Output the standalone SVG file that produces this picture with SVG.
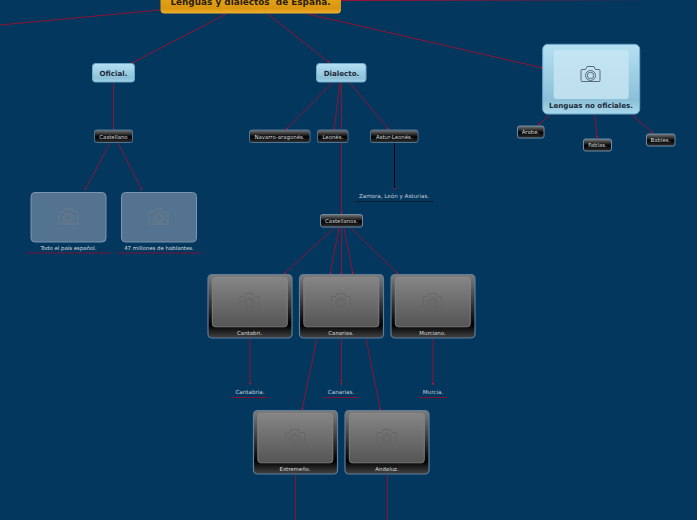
<svg xmlns="http://www.w3.org/2000/svg" width="697" height="520" viewBox="0 0 697 520">
<style>
text{font-family:"DejaVu Sans",Verdana,sans-serif;text-anchor:middle}
.c line{stroke:#8c1434;stroke-width:1;fill:none}
.c line.a{marker-end:url(#ah)}
.t1{font-weight:bold;font-size:7.1px;fill:#1c2a38}
.ts{font-size:5.4px;fill:#dcdcdc}
.tl{font-size:5.6px;fill:#c3cfdc}
.blue{fill:url(#gb);stroke:#6fa8c8;stroke-width:1}
.dark{fill:url(#gd);stroke:#5f7f9c;stroke-width:1.2}
.inner{fill:url(#gi);stroke:#8a8a8a;stroke-width:.8}
.ph{fill:#547390;stroke:#7d95ad;stroke-width:1}
</style>
<defs>
<linearGradient id="gb" x1="0" y1="0" x2="0" y2="1"><stop offset="0" stop-color="#b5e0f2"/><stop offset=".8" stop-color="#8cc0d8"/><stop offset="1" stop-color="#a8d8ec"/></linearGradient>
<linearGradient id="gd" x1="0" y1="0" x2="0" y2="1"><stop offset="0" stop-color="#7c7c7c"/><stop offset=".8" stop-color="#000"/><stop offset="1" stop-color="#444"/></linearGradient>
<linearGradient id="gi" x1="0" y1="0" x2="0" y2="1"><stop offset="0" stop-color="#858585"/><stop offset="1" stop-color="#555"/></linearGradient>
<linearGradient id="gs" x1="0" y1="0" x2="0" y2="1"><stop offset="0" stop-color="#777"/><stop offset=".55" stop-color="#000"/><stop offset="1" stop-color="#333"/></linearGradient>
<linearGradient id="gr" x1="0" y1="0" x2="0" y2="1"><stop offset="0" stop-color="#f0b41e"/><stop offset=".8" stop-color="#d9950f"/><stop offset="1" stop-color="#f0b030"/></linearGradient>
<linearGradient id="gf" x1="0" y1="0" x2="1" y2="0"><stop offset="0" stop-color="#a01030"/><stop offset="1" stop-color="#a01030" stop-opacity="0"/></linearGradient>
<marker id="ah" markerWidth="3" markerHeight="3" refX="2" refY="1.500" orient="auto" markerUnits="userSpaceOnUse"><path d="M0,.5L2,1.500L0,2.500Z" fill="#d01030"/></marker>
<g id="cam" fill="none" stroke-width="1"><path d="M-8.5,-5H-5L-3.5,-8H3.5L5,-5H8.5Q9.5,-5 9.500,-4V6Q9.5,7 8.5,7H-8.5Q-9.5,7 -9.5,6V-4Q-9.5,-5 -8.5,-5Z"/><circle cx="0" cy="1" r="5"/><circle cx="0" cy="1" r="3.2"/></g>
</defs>
<rect width="697" height="520" fill="#03375e"/>
<g id="connectors" class="c">
<line x1="160" y1="10" x2="0" y2="25"/>
<line x1="226" y1="14" x2="132" y2="63" class="a"/>
<line x1="268" y1="14" x2="329.500" y2="63" class="a"/>
<line x1="308" y1="14" x2="543" y2="68" class="a"/>
<line x1="113.500" y1="83" x2="113.500" y2="129.500" class="a"/>
<line x1="110" y1="143" x2="85" y2="190" class="a"/>
<line x1="118" y1="143" x2="142" y2="190" class="a"/>
<line x1="332" y1="83" x2="286" y2="129.500" class="a"/>
<line x1="340" y1="83" x2="334" y2="129.500" class="a"/>
<line x1="341.500" y1="83" x2="341.500" y2="214" class="a"/>
<line x1="350" y1="83" x2="389" y2="129.500" class="a"/>
<line x1="394.500" y1="143" x2="394.500" y2="190" style="stroke:#050a10" class="a"/>
<line x1="334" y1="228" x2="284" y2="274" class="a"/>
<line x1="339" y1="228" x2="330" y2="274" class="a"/>
<line x1="341.500" y1="228" x2="341.500" y2="274" class="a"/>
<line x1="344" y1="228" x2="353" y2="274" class="a"/>
<line x1="351" y1="228" x2="398" y2="274" class="a"/>
<line x1="250" y1="339" x2="250" y2="385" class="a"/>
<line x1="341.500" y1="339" x2="341.500" y2="385" class="a"/>
<line x1="433" y1="339" x2="433" y2="385" class="a"/>
<line x1="317" y1="338" x2="302" y2="410" class="a"/>
<line x1="366" y1="338" x2="380.500" y2="410" class="a"/>
<line x1="295.500" y1="475" x2="295.500" y2="520"/>
<line x1="387.500" y1="475" x2="387.500" y2="520"/>
<line x1="550" y1="115" x2="538" y2="125" class="a"/>
<line x1="595" y1="115" x2="597" y2="138" class="a"/>
<line x1="632" y1="115" x2="653" y2="133" class="a"/>
</g>
<rect x="341" y="0" width="320" height="1" fill="url(#gf)"/>
<g id="root"><rect x="160.500" y="-12" width="180.500" height="25.500" rx="4" fill="url(#gr)"/><text x="250.500" y="4.500" style="font-weight:bold;font-size:8.900px;fill:#2a1c08;white-space:pre">Lenguas y dialectos  de España.</text></g>
<g id="oficial"><rect class="blue" x="92.500" y="63.500" width="42" height="18.500" rx="3"/><text class="t1" x="113.500" y="76">Oficial.</text></g>
<g id="dialecto"><rect class="blue" x="316.500" y="63.500" width="49.500" height="18.500" rx="3"/><text class="t1" x="341.500" y="76">Dialecto.</text></g>
<g id="no-oficiales"><rect class="blue" x="542.700" y="44.300" width="97" height="69.700" rx="5"/><rect x="553.700" y="50" width="75" height="49" rx="3" fill="#c8e6f2" fill-opacity=".8"/><use href="#cam" x="590.500" y="74.500" stroke="#5a6a78"/><text class="t1" x="591" y="107.500">Lenguas no oficiales.</text></g>
<g id="castellano"><rect x="94.500" y="130" width="38" height="12.500" rx="2" fill="url(#gs)" stroke="#4f7594"/><text class="ts" x="113.500" y="138.500">Castellano</text></g>
<g id="navarro"><rect x="249.500" y="130" width="60.500" height="12.500" rx="2" fill="url(#gs)" stroke="#4f7594"/><text class="ts" x="279.500" y="138.500">Navarro-aragonés.</text></g>
<g id="leones"><rect x="317.500" y="130" width="30.500" height="12.500" rx="2" fill="url(#gs)" stroke="#4f7594"/><text class="ts" x="332.800" y="138.500">Leonés.</text></g>
<g id="astur"><rect x="370.500" y="130" width="47.500" height="12.500" rx="2" fill="url(#gs)" stroke="#4f7594"/><text class="ts" x="394.300" y="138.500">Astur-Leonés.</text></g>
<g id="castellano2"><rect x="320.500" y="214.500" width="42" height="12.500" rx="2" fill="url(#gs)" stroke="#6f8aa3"/><text class="ts" x="341.500" y="223">Castellanos.</text></g>
<g id="arabe"><rect x="517.500" y="126" width="26.500" height="12" rx="2" fill="url(#gs)" stroke="#6f8aa3"/><text class="ts" x="530.500" y="134">Árabe.</text></g>
<g id="fablas"><rect x="583.500" y="139" width="28" height="12" rx="2" fill="url(#gs)" stroke="#6f8aa3"/><text class="ts" x="597.500" y="147">Fablas.</text></g>
<g id="bables"><rect x="646.500" y="134" width="28.500" height="12" rx="2" fill="url(#gs)" stroke="#6f8aa3"/><text class="ts" x="660.500" y="142">Bables.</text></g>
<g id="todo"><rect class="ph" x="31" y="192.500" width="75" height="49.500" rx="4"/><use href="#cam" x="68.500" y="217" stroke="#6a7a88"/><text class="ts" x="68.500" y="249.500">Todo el país español.</text><line x1="27" y1="253" x2="110" y2="253" stroke="#7d1234"/></g>
<g id="millones"><rect class="ph" x="121.500" y="192.500" width="75" height="49.500" rx="4"/><use href="#cam" x="158.500" y="217" stroke="#6a7a88"/><text class="ts" x="159" y="249.500">47 millones de hablantes.</text><line x1="117" y1="253" x2="201" y2="253" stroke="#7d1234"/></g>
<g id="zamora"><text class="tl" x="394" y="197.500">Zamora, León y Asturias.</text><line x1="355" y1="201.500" x2="433.500" y2="201.500" stroke="#0a1c30"/></g>
<g id="cantabri"><rect class="dark" x="208" y="274.500" width="84" height="63.500" rx="4"/><rect class="inner" x="212.300" y="277.300" width="75" height="49.500" rx="3"/><use href="#cam" x="249.500" y="301.500" stroke="#666"/><text class="ts" x="249.500" y="334.500">Cantabri.</text></g>
<g id="canarias"><rect class="dark" x="299.500" y="274.500" width="84" height="63.500" rx="4"/><rect class="inner" x="303.800" y="277.300" width="75" height="49.500" rx="3"/><use href="#cam" x="341" y="301.500" stroke="#666"/><text class="ts" x="341" y="334.500">Canarias.</text></g>
<g id="murciano"><rect class="dark" x="391" y="274.500" width="84" height="63.500" rx="4"/><rect class="inner" x="395.300" y="277.300" width="75" height="49.500" rx="3"/><use href="#cam" x="432.500" y="301.500" stroke="#666"/><text class="ts" x="432.500" y="334.500">Murciano.</text></g>
<g id="extremeno"><rect class="dark" x="253.500" y="410.500" width="84" height="63.500" rx="4"/><rect class="inner" x="257.800" y="413.300" width="75" height="49.500" rx="3"/><use href="#cam" x="295" y="437.500" stroke="#666"/><text class="ts" x="295" y="470.500">Extremeño.</text></g>
<g id="andaluz"><rect class="dark" x="345" y="410.500" width="84" height="63.500" rx="4"/><rect class="inner" x="349.300" y="413.300" width="75" height="49.500" rx="3"/><use href="#cam" x="386.500" y="437.500" stroke="#666"/><text class="ts" x="387" y="470.500">Andaluz.</text></g>
<g id="cantabria"><text class="tl" x="250" y="393.500">Cantabria.</text><line x1="231.500" y1="397.500" x2="268.500" y2="397.500" stroke="#7d1234"/></g>
<g id="canarias2"><text class="tl" x="341" y="393.500">Canarias.</text><line x1="324" y1="397.500" x2="359" y2="397.500" stroke="#7d1234"/></g>
<g id="murcia"><text class="tl" x="433" y="393.500">Murcia.</text><line x1="418.500" y1="397.500" x2="447.500" y2="397.500" stroke="#7d1234"/></g>
</svg>
